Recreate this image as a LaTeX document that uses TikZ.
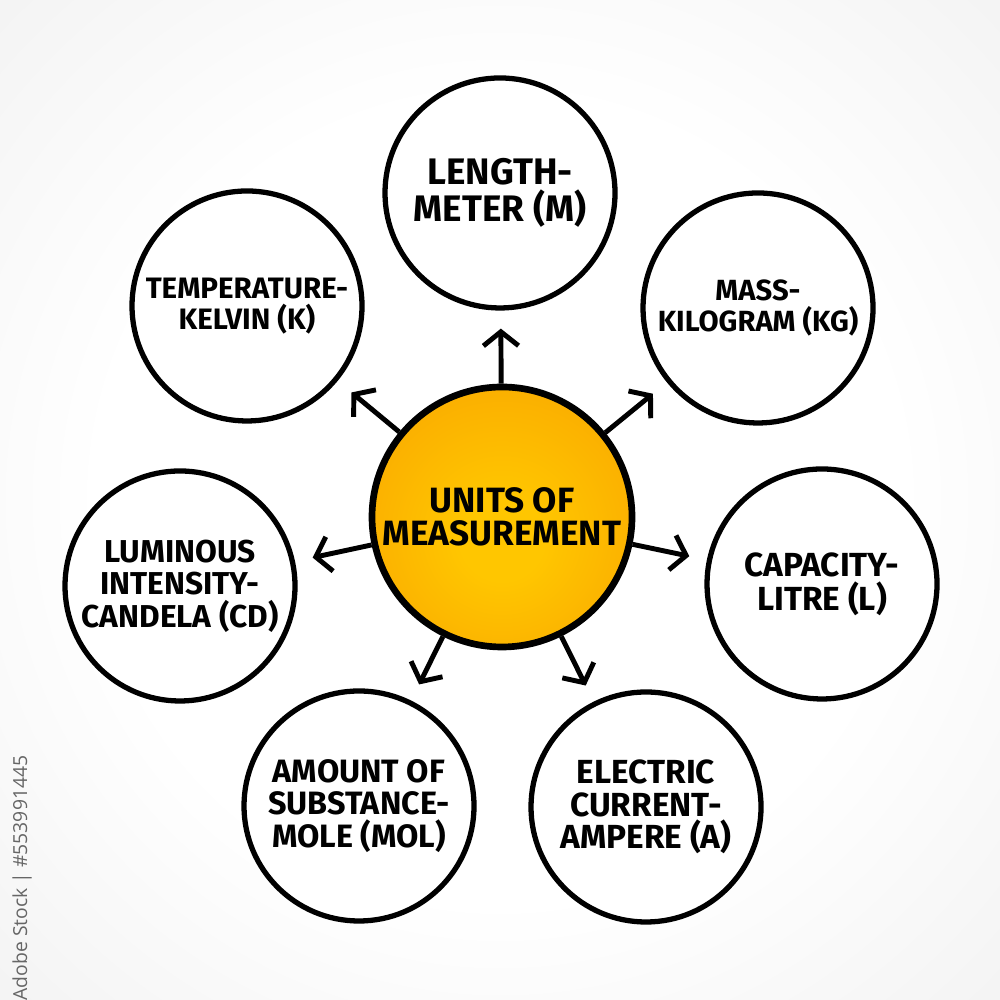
\documentclass[tikz,border=0pt]{standalone}
\usepackage{fontspec}
\setmainfont{Fira Sans}
\newfontfamily\stockfont{Open Sans}
\usetikzlibrary{arrows.meta,shapes}
\definecolor{hubin}{RGB}{255,198,0}
\definecolor{hubmid}{RGB}{250,170,0}
\definecolor{hubout}{RGB}{240,138,0}
\definecolor{bgedge}{RGB}{224,224,224}
\pgfdeclareradialshading{bgglow}{\pgfpointorigin}{color(0bp)=(white); color(20bp)=(white); color(62bp)=(bgedge)}
\pgfdeclareradialshading{hubglow}{\pgfpoint{0bp}{-5bp}}{color(0bp)=(hubin); color(8bp)=(hubin); color(32bp)=(hubmid); color(50bp)=(hubout)}

\begin{document}
\begin{tikzpicture}[x=1cm,y=1cm]
                \tikzstyle{unit}=[circle,draw,line width=1.5pt,fill=white,minimum size=2.3cm,inner sep=0pt,align=center,font=\bfseries\fontsize{9}{9.2}\selectfont]
                \tikzstyle{hubnode}=[circle,draw,line width=1.9pt,shading=hubglow,minimum size=2.6cm,inner sep=0pt,align=center,font=\bfseries\fontsize{10}{9.4}\selectfont]
                \tikzstyle{spoke}=[line width=1.4pt,-{Straight Barb[length=4pt,width=10pt]},shorten >=0.18cm]
                
                \shade[shading=bgglow] (0,0) rectangle (10,10);
                \useasboundingbox (0,0) rectangle (10,10);
                
                \node[hubnode] (hub) at (5.02,4.83) {UNITS OF\\MEASUREMENT};
                
                \node[unit,font=\bfseries\fontsize{10.5}{10.6}\selectfont] (len) at (5.00,8.07) {LENGTH-\\METER (M)};
                \node[unit,font=\bfseries\fontsize{8.3}{8.8}\selectfont] (mass) at (7.58,6.92) {MASS-\\KILOGRAM (KG)};
                \node[unit,font=\bfseries\fontsize{9.5}{9.6}\selectfont] (cap) at (8.22,4.16) {CAPACITY-\\LITRE (L)};
                \node[unit,font=\bfseries\fontsize{9.5}{9.2}\selectfont] (elec) at (6.46,1.93) {ELECTRIC\\CURRENT-\\AMPERE (A)};
                \node[unit,font=\bfseries\fontsize{9.2}{9.2}\selectfont] (amount) at (3.59,1.94) {AMOUNT OF\\SUBSTANCE-\\MOLE (MOL)};
                \node[unit] (lum) at (1.80,4.14) {LUMINOUS\\INTENSITY-\\CANDELA (CD)};
                \node[unit,font=\bfseries\fontsize{8.4}{8.8}\selectfont] (temp) at (2.47,6.94) {TEMPERATURE-\\KELVIN (K)};
                
                \draw[spoke] (hub) -- (len);
                \draw[spoke] (hub) -- (mass);
                \draw[spoke] (hub) -- (cap);
                \draw[spoke] (hub) -- (elec);
                \draw[spoke] (hub) -- (amount);
                \draw[spoke] (hub) -- (lum);
                \draw[spoke] (hub) -- (temp);
                
                \node[rotate=90,text=black!60,font=\stockfont\fontsize{5.5}{6}\selectfont] (stockid) at (0.22,1.22) {Adobe Stock | \#553991445};
                
                \end{tikzpicture}
\end{document}
